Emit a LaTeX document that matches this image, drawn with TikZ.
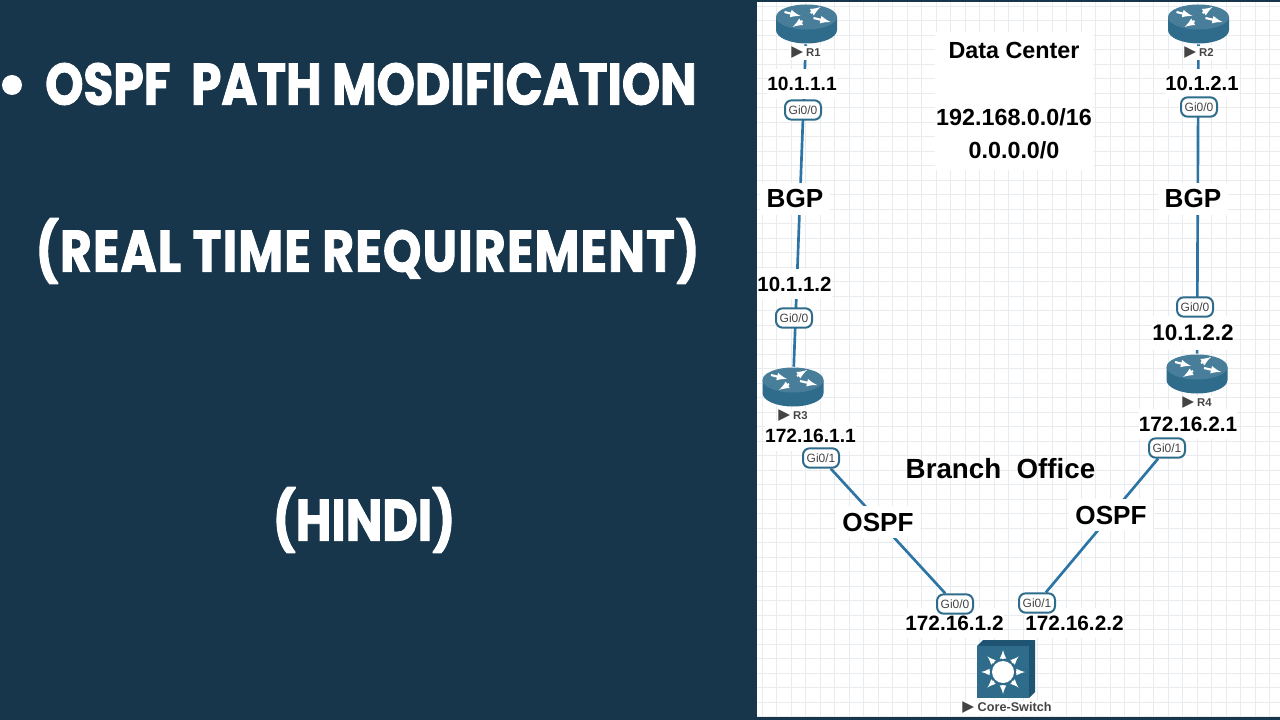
\documentclass[tikz,border=0pt]{standalone}
\usepackage{fontspec}
\setmainfont{Liberation Sans}
\newfontfamily\titlefont[FakeStretch=0.83,BoldFeatures={FakeBold=1.5}]{Poppins}
\newfontfamily\symbolfont{DejaVu Sans}
\usepackage{tikz}
\usetikzlibrary{arrows,
                backgrounds,
                positioning}
\definecolor{slidebg}{HTML}{17364C}
\definecolor{ciscoblue}{HTML}{2F6C8C}
\definecolor{ciscodark}{HTML}{1F5372}
\definecolor{linkblue}{HTML}{2B74A3}
\definecolor{gridgray}{HTML}{E9ECEE}
\definecolor{namegray}{HTML}{444444}

\newcommand{\playmark}{{\symbolfont\fontsize{11.5}{11.5}\selectfont\char"25B6}}

\newcommand{\routerbody}{%
  \begin{scope}[shift={(path picture bounding box.center)},x=.75pt,y=-.75pt]
    \fill[ciscoblue] (-30.5,-7) -- (-30.5,6) arc[start angle=180,end angle=0,x radius=30.5,y radius=13.5]
                     -- (30.5,-7) -- cycle;
    \fill[ciscoblue!88!white] (0,-7) ellipse[x radius=30.5,y radius=12.5];
    \draw[white,-latex,line width=1.6pt] (-22,-12) -- (-6,-8);
    \draw[white,-latex,line width=1.6pt] (7,-6) -- (24,-2);
    \draw[white,-latex,line width=1.6pt] (-4,-3) -- (-14,3);
    \draw[white,-latex,line width=1.6pt] (4,-11) -- (14,-17);
  \end{scope}}

\newcommand{\switchbody}{%
  \begin{scope}[shift={(path picture bounding box.center)},x=.75pt,y=-.75pt]
    \fill[ciscodark] (-29,-23) -- (-23,-29) -- (29,-29) -- (29,23) -- (23,29) -- (23,-23) -- cycle;
    \fill[ciscoblue] (-29,-23) rectangle (23,29);
    \fill[white] (-3,3) circle[radius=11];
    \foreach \ang in {0,45,...,315}
      \draw[white,-latex,line width=1.2pt] (-3,3) ++(\ang:13) -- ++(\ang:9);
  \end{scope}}

\tikzset{slidetext/.style =
   {font=\titlefont\bfseries\fontsize{44}{44}\selectfont,
    text=white,
    inner sep=0pt}}
\tikzset{router/.style =
   {rectangle,
    inner sep=0pt,
    minimum width=46.5pt,
    minimum height=30pt,
    path picture={\routerbody}}}
\tikzset{coreswitch/.style =
   {rectangle,
    inner sep=0pt,
    minimum width=43.5pt,
    minimum height=43.5pt,
    path picture={\switchbody}}}
\tikzset{devname/.style =
   {font=\bfseries\fontsize{8.5}{8.5}\selectfont,
    text=namegray,
    fill=white,
    inner sep=1pt}}
\tikzset{port/.style =
   {rectangle,
    draw=ciscoblue,
    fill=white,
    line width=1.5pt,
    rounded corners=5pt,
    text=namegray,
    font=\fontsize{9}{9}\selectfont,
    inner sep=0pt,
    minimum width=27pt,
    minimum height=14.5pt}}
\tikzset{addr/.style =
   {font=\bfseries\fontsize{#1}{#1}\selectfont,
    fill=white,
    inner xsep=0pt,
    inner ysep=1.5pt,
    minimum height=22.5pt},
    addr/.default=14.4}
\tikzset{proto/.style =
   {font=\bfseries\fontsize{19.6}{19.6}\selectfont,
    fill=white,
    inner sep=5pt}}
\tikzset{site/.style =
   {font=\bfseries\fontsize{17.5}{17.5}\selectfont,
    inner sep=0pt}}
\tikzset{link/.style = {draw=linkblue, line width=2pt}}

\begin{document}
\begin{tikzpicture}[x=.75pt,y=-.75pt]

    \useasboundingbox (0,0) rectangle (1280,720);

    % slide text
    \node [slidetext] (line1) at (371,84) {OSPF\ \ PATH MODIFICATION};
    \node [slidetext] (line2) at (367.5,251) {\addfontfeature{LetterSpace=2.2}(REAL TIME REQUIREMENT)};
    \node [slidetext] (line3) at (364,520) {(HINDI)};
    \node [circle,
           fill=white,
           inner sep=0pt,
           minimum size=15pt] (bullet) at (12,85) {};

    % addresses
    \node [addr] (ip1) at (802,84) {10.1.1.1};
    \node [addr=15.2] (ip2) at (1202,84) {10.1.2.1};
    \node [addr=15.4] (ip3) at (794.5,284) {10.1.1.2};
    \node [addr=16.9,
           minimum height=26pt] (ip4) at (1193,333) {10.1.2.2};
    \node [addr] (ip5) at (810.5,436) {172.16.1.1};
    \node [addr=15.6] (ip6) at (1188,424) {172.16.2.1};
    \node [addr=15.6] (ip7) at (954.5,623) {172.16.1.2};
    \node [addr=15.6] (ip8) at (1074.5,623) {172.16.2.2};

    % devices
    \node [router] (r1) at (806.5,24) {};
    \node [router] (r2) at (1198.5,24) {};
    \node [router] (r3) at (793,387) {};
    \node [router] (r4) at (1197,374) {};
    \node [coreswitch] (core) at (1006,669) {};

    \node [devname] (r1name) at (806,53) {\playmark\ R1};
    \node [devname] (r2name) at (1199,53) {\playmark\ R2};
    \node [devname] (r3name) at (793,416) {\playmark\ R3};
    \node [devname] (r4name) at (1197,403) {\playmark\ R4};
    \node [devname,
           font=\bfseries\fontsize{9.5}{9.5}\selectfont] (corename) at (1007,708) {\playmark\ Core-Switch};

    % interfaces
    \node [port] (r1gi) at (803,110) {Gi0/0};
    \node [port] (r2gi) at (1199,107) {Gi0/0};
    \node [port] (r3up) at (794,318) {Gi0/0};
    \node [port] (r4up) at (1195,307) {Gi0/0};
    \node [port] (r3gi) at (821,458) {Gi0/1};
    \node [port] (r4gi) at (1167,448) {Gi0/1};
    \node [port] (coreleft) at (955,604) {Gi0/0};
    \node [port] (coreright) at (1037,603) {Gi0/1};

    % protocols
    \node [proto] (bgpleft) at (795,199) {BGP};
    \node [proto] (bgpright) at (1193,199) {BGP};
    \node [proto] (ospfleft) at (878,522) {OSPF};
    \node [proto] (ospfright) at (1111,515) {OSPF};

    % sites
    \node [site,
           fill=white,
           minimum width=118.5pt,
           minimum height=103pt] (dcbox) at (1014,101) {};
    \node [site] (dc) at (1014,50) {Data Center};
    \node [site] (dcnet) at (1014,117) {192.168.0.0/16};
    \node [site] (dcdefault) at (1014,150) {0.0.0.0/0};
    \node [site,
           font=\bfseries\fontsize{20.8}{20.8}\selectfont] (branch) at (1000.5,469) {Branch\ \ Office};

    \begin{scope}[on background layer]
        \fill[slidebg] (0,0) rectangle (1280,720);
        \fill[white] (757,2) rectangle (1280,717);
        \foreach \gx in {0,...,36}
            \draw[gridgray,line width=.5pt] (762+14.5*\gx,2) -- (762+14.5*\gx,717);
        \foreach \gy in {0,...,49}
            \draw[gridgray,line width=.5pt] (757,6+14.5*\gy) -- (1280,6+14.5*\gy);

        \draw[link] (r1) -- (r3);
        \draw[link] (r2) -- (r4);
        \draw[link] (r3gi) -- (coreleft);
        \draw[link] (r4gi) -- (coreright);
    \end{scope}

\end{tikzpicture}
\end{document}
